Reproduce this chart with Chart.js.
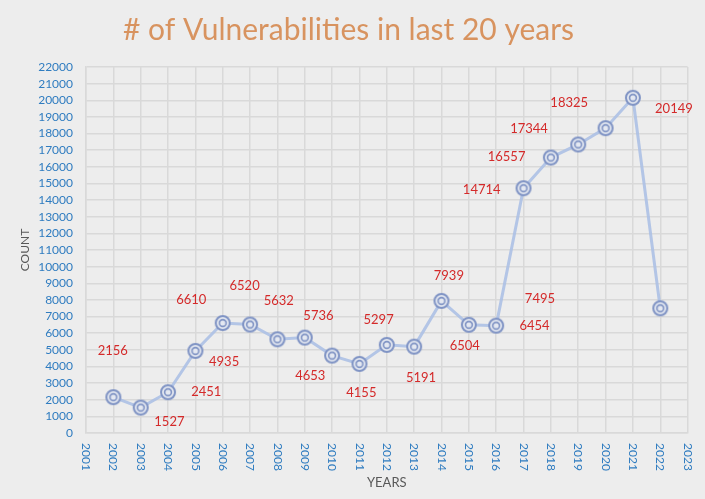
<!DOCTYPE html>
<html>
<head>
<meta charset="utf-8">
<script src="https://cdn.jsdelivr.net/npm/chart.js@4"></script>
<style>
  html, body { margin: 0; padding: 0; background: #ededed; }
  #wrap { width: 705px; height: 499px; }
</style>
</head>
<body>
<div id="wrap"><canvas id="vulnChart" width="705" height="499"></canvas></div>
<script>
// values
var years = [2002, 2003, 2004, 2005, 2006, 2007, 2008, 2009, 2010, 2011, 2012,
             2013, 2014, 2015, 2016, 2017, 2018, 2019, 2020, 2021, 2022];
var counts = [2156, 1527, 2451, 4935, 6610, 6520, 5632, 5736, 4653, 4155, 5297,
              5191, 7939, 6504, 6454, 14714, 16557, 17344, 18325, 20149, 7495];
var yearAxis = { min: 2001, max: 2023, step: 1 };
var countAxis = { min: 0, max: 22000, step: 1000 };

// where the value labels sit (in axis units), they are scattered like in the source
var labelAnchorX = [2001.98, 2004.05, 2005.4, 2006.05, 2004.85, 2006.8, 2008.05, 2009.5, 2009.2, 2011.07, 2011.7,
                    2013.25, 2014.27, 2014.85, 2017.4, 2015.47, 2016.38, 2017.2, 2018.67, 2022.5, 2017.6];
var labelAnchorY = [4930, 660, 2460, 4270, 7990, 8830, 7930, 7030, 3430, 2400, 6790,
                    3310, 9430, 5230, 6430, 14600, 16590, 18270, 19830, 19470, 8050];

var tickBlue = '#2f7cc0';
var gridGrey = '#d9d9d9';

// double ring marker
function makeMarker() {
    var c = document.createElement('canvas');
    c.width = 18; c.height = 18;
    var g = c.getContext('2d');
    g.fillStyle = '#e4e8f1';
    g.beginPath(); g.arc(9, 9, 7.2, 0, Math.PI * 2); g.fill();
    g.strokeStyle = '#7f93c4';
    g.lineWidth = 2;
    g.beginPath(); g.arc(9, 9, 7, 0, Math.PI * 2); g.stroke();
    g.lineWidth = 1.6;
    g.beginPath(); g.arc(9, 9, 3.4, 0, Math.PI * 2); g.stroke();
    return c;
}

var valueLabels = {
    id: 'valueLabels',
    afterDatasetsDraw: function(chart) {
        var ctx = chart.ctx, xs = chart.scales.x, ys = chart.scales.y;
        ctx.save();
        ctx.fillStyle = '#d42a2a';
        ctx.font = '13px Lato';
        ctx.textAlign = 'center';
        ctx.textBaseline = 'middle';
        counts.forEach(function(v, i) {
            ctx.fillText(String(v), xs.getPixelForValue(labelAnchorX[i]), ys.getPixelForValue(labelAnchorY[i]));
        });
        ctx.restore();
    }
};

// x tick labels read top-to-bottom in the source
var downTicks = {
    id: 'downTicks',
    afterDraw: function(chart) {
        var ctx = chart.ctx, xs = chart.scales.x;
        ctx.save();
        ctx.fillStyle = tickBlue;
        ctx.font = '12px Lato';
        ctx.textAlign = 'left';
        ctx.textBaseline = 'middle';
        xs.ticks.forEach(function(t) {
            ctx.save();
            ctx.translate(xs.getPixelForValue(t.value), chart.chartArea.bottom + 10);
            ctx.rotate(Math.PI / 2);
            ctx.fillText(String(t.value), 0, 0);
            ctx.restore();
        });
        ctx.restore();
    }
};

var ctx = document.getElementById('vulnChart').getContext('2d');
new Chart(ctx, {
    type: 'line',
    data: {
        datasets: [{
            label: 'Vulnerabilities',
            data: years.map(function(y, i) { return { x: y, y: counts[i] }; }),
            borderColor: 'rgba(172, 192, 228, 0.9)',
            borderWidth: 3,
            pointStyle: makeMarker(),
            pointRadius: 9,
            tension: 0
        }]
    },
    options: {
        responsive: false,
        animation: false,
        layout: { padding: { top: 0, right: 8, bottom: 0, left: 0 } },
        scales: {
            x: {
                type: 'linear',
                min: yearAxis.min,
                max: yearAxis.max,
                afterFit: function(s) { s.height = 66; },
                ticks: {
                    stepSize: yearAxis.step,
                    autoSkip: false,
                    color: 'transparent',
                    minRotation: 90,
                    maxRotation: 90,
                    font: { family: 'Lato', size: 12 },
                    callback: function(v) { return String(v); }
                },
                grid: { color: gridGrey, lineWidth: 1.5, drawTicks: false },
                border: { color: gridGrey, width: 1.5 },
                title: {
                    display: true,
                    text: 'YEARS',
                    color: '#595959',
                    font: { family: 'Lato', size: 13 },
                    padding: { top: 0, bottom: 8 }
                }
            },
            y: {
                min: countAxis.min,
                max: countAxis.max,
                afterFit: function(s) { s.width = 86; },
                ticks: {
                    stepSize: countAxis.step,
                    autoSkip: false,
                    color: tickBlue,
                    padding: 13,
                    font: { family: 'Lato', size: 12 },
                    callback: function(v) { return String(v); }
                },
                grid: { color: gridGrey, lineWidth: 1.5, drawTicks: false },
                border: { color: gridGrey, width: 1.5 },
                title: {
                    display: true,
                    text: 'COUNT',
                    color: '#595959',
                    font: { family: 'Lato', size: 12 },
                    padding: { top: 18, bottom: 0 }
                }
            }
        },
        plugins: {
            legend: { display: false },
            tooltip: { enabled: false },
            title: {
                display: true,
                text: '# of Vulnerabilities in last 20 years',
                color: '#d8935f',
                font: { family: 'Lato', size: 30, weight: 'normal' },
                padding: { top: 12, bottom: 19 }
            }
        }
    },
    plugins: [valueLabels, downTicks]
});
</script>
</body>
</html>
